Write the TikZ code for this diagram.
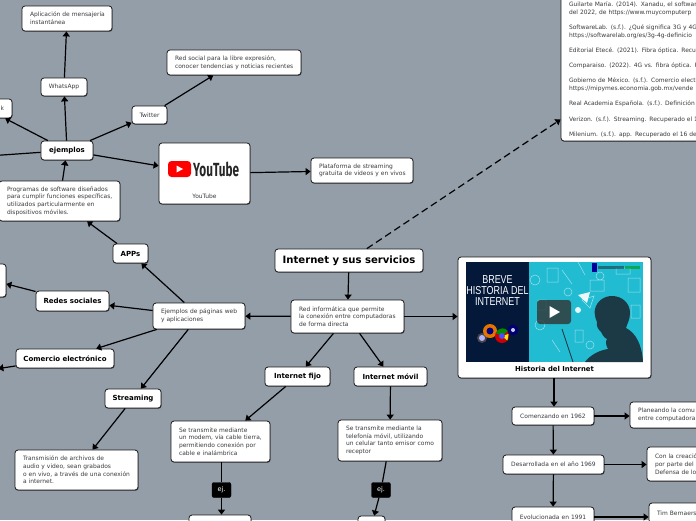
\documentclass[tikz,border=0pt]{standalone}
\usepackage{fontspec}
\setmainfont{DejaVu Sans}
\newfontfamily\narrowf{Liberation Sans}
\newfontfamily\logof{Fira Sans}
\usetikzlibrary{arrows.meta,shadows,calc}
\definecolor{bgc}{HTML}{949EA8}
\definecolor{bodyc}{HTML}{3A3A3A}
\definecolor{navy}{HTML}{04183A}
\definecolor{cyanp}{HTML}{22BCD2}
\definecolor{silh}{HTML}{1B3A45}
\tikzset{
 box/.style={draw=black!90,line width=.8pt,fill=white,rounded corners=3pt,inner sep=0pt,
   drop shadow={shadow xshift=.6pt,shadow yshift=-.8pt,opacity=.45,fill=black}},
 bodyt/.style={font=\fontsize{5.95}{7.7}\selectfont,text=bodyc,align=left,execute at begin node={\leftskip=6pt\relax}},
 smallc/.style={font=\fontsize{5.95}{7.7}\selectfont,text=bodyc,align=center},
 titlet/.style={font=\fontsize{7}{8}\selectfont\bfseries,text=black,align=center},
 maint/.style={font=\fontsize{10.1}{11}\selectfont\bfseries,text=black,align=center},
 ejbox/.style={fill=black,draw=black,rounded corners=2pt,inner sep=0pt,text=white,font=\fontsize{6.5}{7}\selectfont,align=center},
 arr/.style={line width=1.2pt,draw=black,-{Triangle[length=5pt,width=7pt]}},
 plain/.style={line width=1.2pt,draw=black},
 dash arr/.style={arr,dash pattern=on 7pt off 4pt},
}
% name, x1, y1, x2, y2, style, text
\newcommand\mk[7]{%
 \pgfmathsetmacro\mkw{#4-#2}\pgfmathsetmacro\mkh{#5-#3}%
 \pgfmathsetmacro\mkt{\mkw-4}%
 \node[box,#6,minimum width=\mkw pt,minimum height=\mkh pt,text width=\mkt pt] (#1) at ({(#2+#4)/2},{(#3+#5)/2}) {#7};}
\begin{document}
\begin{tikzpicture}[x=1pt,y=-1pt]
\useasboundingbox (0,0) rectangle (696,520);
\clip (0,0) rectangle (696,520);
\fill[bgc] (0,0) rectangle (696,520);
% nodes
\mk{main}{275}{249}{423}{272}{maint}{\raisebox{-1.2pt}{Internet y sus servicios}}
\mk{red}{291}{300}{404}{333}{bodyt}{Red informática que permite\\la conexión entre computadoras\\de forma directa}
\mk{fijo}{265}{367}{330}{386}{titlet}{Internet fijo}
\mk{movil}{354}{367}{427}{386}{titlet}{Internet móvil}
\mk{modem}{171}{421}{270}{462}{bodyt}{Se transmite mediante\\un modem, vía cable tierra,\\permitiendo conexión por\\cable e inalámbrica}
\mk{tele}{338}{420}{442}{461}{bodyt}{Se transmite mediante la\\telefonía móvil, utilizando\\un celular tanto emisor como\\receptor}
\node[ejbox,minimum width=19pt,minimum height=15pt] (ej1) at (221.5,490) {ej.};
\node[ejbox,minimum width=19pt,minimum height=15pt] (ej2) at (381,490) {ej.};
\mk{fijob}{189}{515}{251}{535}{smallc}{}
\mk{movb}{358}{516}{385}{535}{smallc}{}
\mk{pag}{153}{303}{245}{329}{bodyt}{Ejemplos de páginas web\\y aplicaciones}
\mk{apps}{113}{244}{148}{263}{titlet}{APPs}
\mk{redes}{36}{291}{109}{311}{titlet}{Redes sociales}
\mk{comer}{16}{349}{114}{368}{titlet}{Comercio electrónico}
\mk{stream}{105}{389}{161}{408}{titlet}{Streaming}
\mk{trans}{15}{450}{138}{490}{bodyt}{Transmisión de archivos de\\audio y video, sean grabados\\o en vivo, a través de una conexión\\a internet.}
\mk{redesb}{-20}{264}{6}{297}{smallc}{}
\mk{comerb}{-60}{353}{-2}{393}{smallc}{}
\mk{prog}{-1}{181}{120}{221}{bodyt}{Programas de software diseñados\\para cumplir funciones específicas,\\utilizados particularmente en\\dispositivos móviles.}
\mk{ejem}{41}{141}{93}{160}{titlet}{ejemplos}
\mk{whats}{41}{78}{87}{96}{smallc}{WhatsApp}
\mk{apli}{22}{6}{112}{31}{bodyt}{Aplicación de mensajería\\instantánea}
\mk{twit}{132}{106}{167}{124}{smallc}{Twitter}
\mk{rsoc}{167}{50}{301}{75}{bodyt}{Red social para la libre expresión,\\conocer tendencias y noticias recientes}
\mk{face}{-40}{99}{12}{118}{smallc}{\hfill k\hspace*{6pt}}
\mk{yt}{159}{143}{250}{204}{smallc}{}
\mk{plat}{311}{158}{413}{183}{bodyt}{Plataforma de streaming\\gratuita de videos y en vivos}
\mk{hist}{458}{257}{651}{378}{smallc}{}
\mk{c62}{512}{407}{594}{425}{smallc}{Comenzando en 1962}
\mk{d69}{503}{455}{604}{474}{smallc}{Desarrollada en el año 1969}
\mk{e91}{512}{507}{594}{527}{smallc}{Evolucionada en 1991}
\mk{plan}{630}{402}{760}{428}{bodyt}{Planeando la comu\\entre computadora}
\mk{crea}{647}{447}{760}{481}{bodyt}{Con la creació\\por parte del\\Defensa de lo}
\mk{tim}{649}{503}{760}{523}{bodyt}{Tim Bernaers}
\mk{refs}{561}{-8}{720}{141}{bodyt}{\rule{0pt}{0pt}\\[4pt]Guilarte María. (2014). Xanadu, el softwar\\del 2022, de https://www.muycomputerp\\[7pt]SoftwareLab. (s.f.). ¿Qué significa 3G y 4G\\https://softwarelab.org/es/3g-4g-definicio\\[7.6pt]Editorial Etecé. (2021). Fibra óptica. Recu\\[7.6pt]Comparaiso. (2022). 4G vs. fibra óptica. R\\[7.6pt]Gobierno de México. (s.f.). Comercio elect\\https://mipymes.economia.gob.mx/vende\\[7.6pt]Real Academia Española. (s.f.). Definición\\[7.6pt]Verizon. (s.f.). Streaming. Recuperado el 1\\[7.6pt]Milenium. (s.f.). app. Recuperado el 16 de}
% texts on nodes with late content
\node[font=\fontsize{5.95}{7}\selectfont,text=bodyc] at (204.5,196) {YouTube};
\node[font=\fontsize{6.85}{7}\selectfont\bfseries] at (554.5,368.5) {Historia del Internet};
% youtube logo
\fill[red,rounded corners=3.5pt] (168,161) rectangle (191,177);
\fill[white] (176.5,165.5) -- (176.5,172.5) -- (183,169) -- cycle;
\node[inner sep=0pt,anchor=west,text=black!85] at (193,169.5) {\fontsize{19}{19}\logof\bfseries\scalebox{.62}[1]{YouTube}};
% video thumbnail
\fill[navy] (466,262) rectangle (529,362);
\fill[cyanp] (529,262) rectangle (643,362);
\begin{scope}
\clip (529,262) rectangle (643,362);
\draw[white,opacity=.55,line width=.5pt] (547,268) rectangle (558,282) (562,270) -- (572,284) (535,280) circle (5) (590,280) rectangle (604,291)
 (628,278) rectangle (640,292) (538,300) rectangle (546,310) (568,292) circle (4) (582,300) -- (594,296) -- (590,308) -- cycle
 (616,268) rectangle (630,274) (540,325) circle (5) (575,330) rectangle (583,342) (590,345) circle (4) (552,340) -- (560,352)
 (631,305) rectangle (640,318) (600,276) circle (4) (578,262) -- (585,275);
\fill[white,opacity=.9] (578,295) -- (590,292) -- (587,303) -- cycle (578,310) circle (3);
\fill[silh] (585,362) .. controls (590,355) and (600,350) .. (608,349)
 .. controls (606,345) and (605,342) .. (607,339)
 .. controls (603,337) and (603,335) .. (601,332)
 .. controls (599,330) and (596,327) .. (597,322)
 .. controls (595,318) and (594,312) .. (595,309)
 .. controls (597,301) and (604,296) .. (612,296)
 .. controls (622,296) and (630,303) .. (630,313)
 .. controls (630,320) and (627,324) .. (626,328)
 .. controls (636,333) and (642,345) .. (643,362) -- cycle;
\end{scope}
\draw[silh,line width=.9pt] (562,329) -- (573,362);
\node[inner sep=0pt,text=white,align=center,font=\fontsize{11.5}{10.6}\narrowf] at (497.5,290.5) {\scalebox{.78}[1]{BREVE}\\[0pt]\scalebox{.78}[1]{HISTORIA DEL}\\[0pt]\scalebox{.78}[1]{INTERNET}};
\fill[black!45!gray] (482,338) circle (5);
\fill[white!70!blue] (482,338) circle (3);
\fill[orange!90!black] (490,331) circle (7);
\fill[blue!50!black] (490,331) circle (3.5);
\fill[red!80!black] (502,336) circle (7);
\fill[green!55!black] (502,336) -- (496,333) arc (200:320:7) -- cycle;
\fill[yellow!90!orange] (502,336) -- (507.4,340.5) -- (508.5,334) -- cycle;
\fill[blue!70!white] (502,336) circle (3);
\fill[blue!45!black] (513,330) circle (5.5);
\fill[white,opacity=.8] (513,330) circle (2);
\fill[blue!60!black] (592,263) rectangle (597,272);
\fill[silh,opacity=.6] (598,266) rectangle (624,269);
\fill[green!60!black,opacity=.6] (625,266) rectangle (640,269);
\fill[black!80,opacity=.8,rounded corners=3pt] (537,300) rectangle (571,324);
\fill[white] (549.5,306) -- (549.5,318) -- (560,312) -- cycle;
% connectors
\draw[arr] (main) -- (red);
\draw[dash arr] (main) -- (refs);
\draw[arr] (red) -- (fijo);
\draw[arr] (red) -- (movil);
\draw[arr] (red) -- (pag);
\draw[arr] (red) -- (red-|hist.west);
\draw[arr] (fijo) -- (modem);
\draw[arr] (movil) -- (tele);
\draw[plain] (modem.south-|ej1) -- (ej1);
\draw[arr] (ej1) -- (ej1|-fijob.north);
\draw[plain] (tele) -- (ej2);
\draw[arr] (ej2) -- (movb);
\draw[arr] (pag) -- (apps);
\draw[arr] (pag) -- (redes);
\draw[arr] (pag) -- (comer);
\draw[arr] (pag) -- (stream);
\draw[arr] (stream) -- (trans);
\draw[arr] (redes) -- (redesb);
\draw[arr] (comer) -- (comerb);
\draw[arr] (apps) -- (prog);
\draw[arr] (prog) -- (ejem);
\draw[arr] (ejem) -- (whats);
\draw[arr] (whats) -- (apli);
\draw[arr] (ejem) -- (twit);
\draw[arr] (twit) -- (rsoc);
\draw[arr] (ejem) -- (face);
\draw[arr] (ejem) -- (yt);
\draw[arr] (yt) -- (plat);
\coordinate (leftend) at (-5,155.5);
\draw[plain] (ejem) -- (leftend);
\coordinate (histout) at (554,378);
\draw[arr] (histout) -- (histout|-c62.north);
\draw[arr] (c62) -- (d69);
\draw[arr] (d69) -- (e91);
\draw[arr] (c62) -- (c62-|plan.west);
\draw[arr] (d69) -- (d69-|crea.west);
\draw[arr] (e91) -- (e91-|tim.west);
\end{tikzpicture}
\end{document}
